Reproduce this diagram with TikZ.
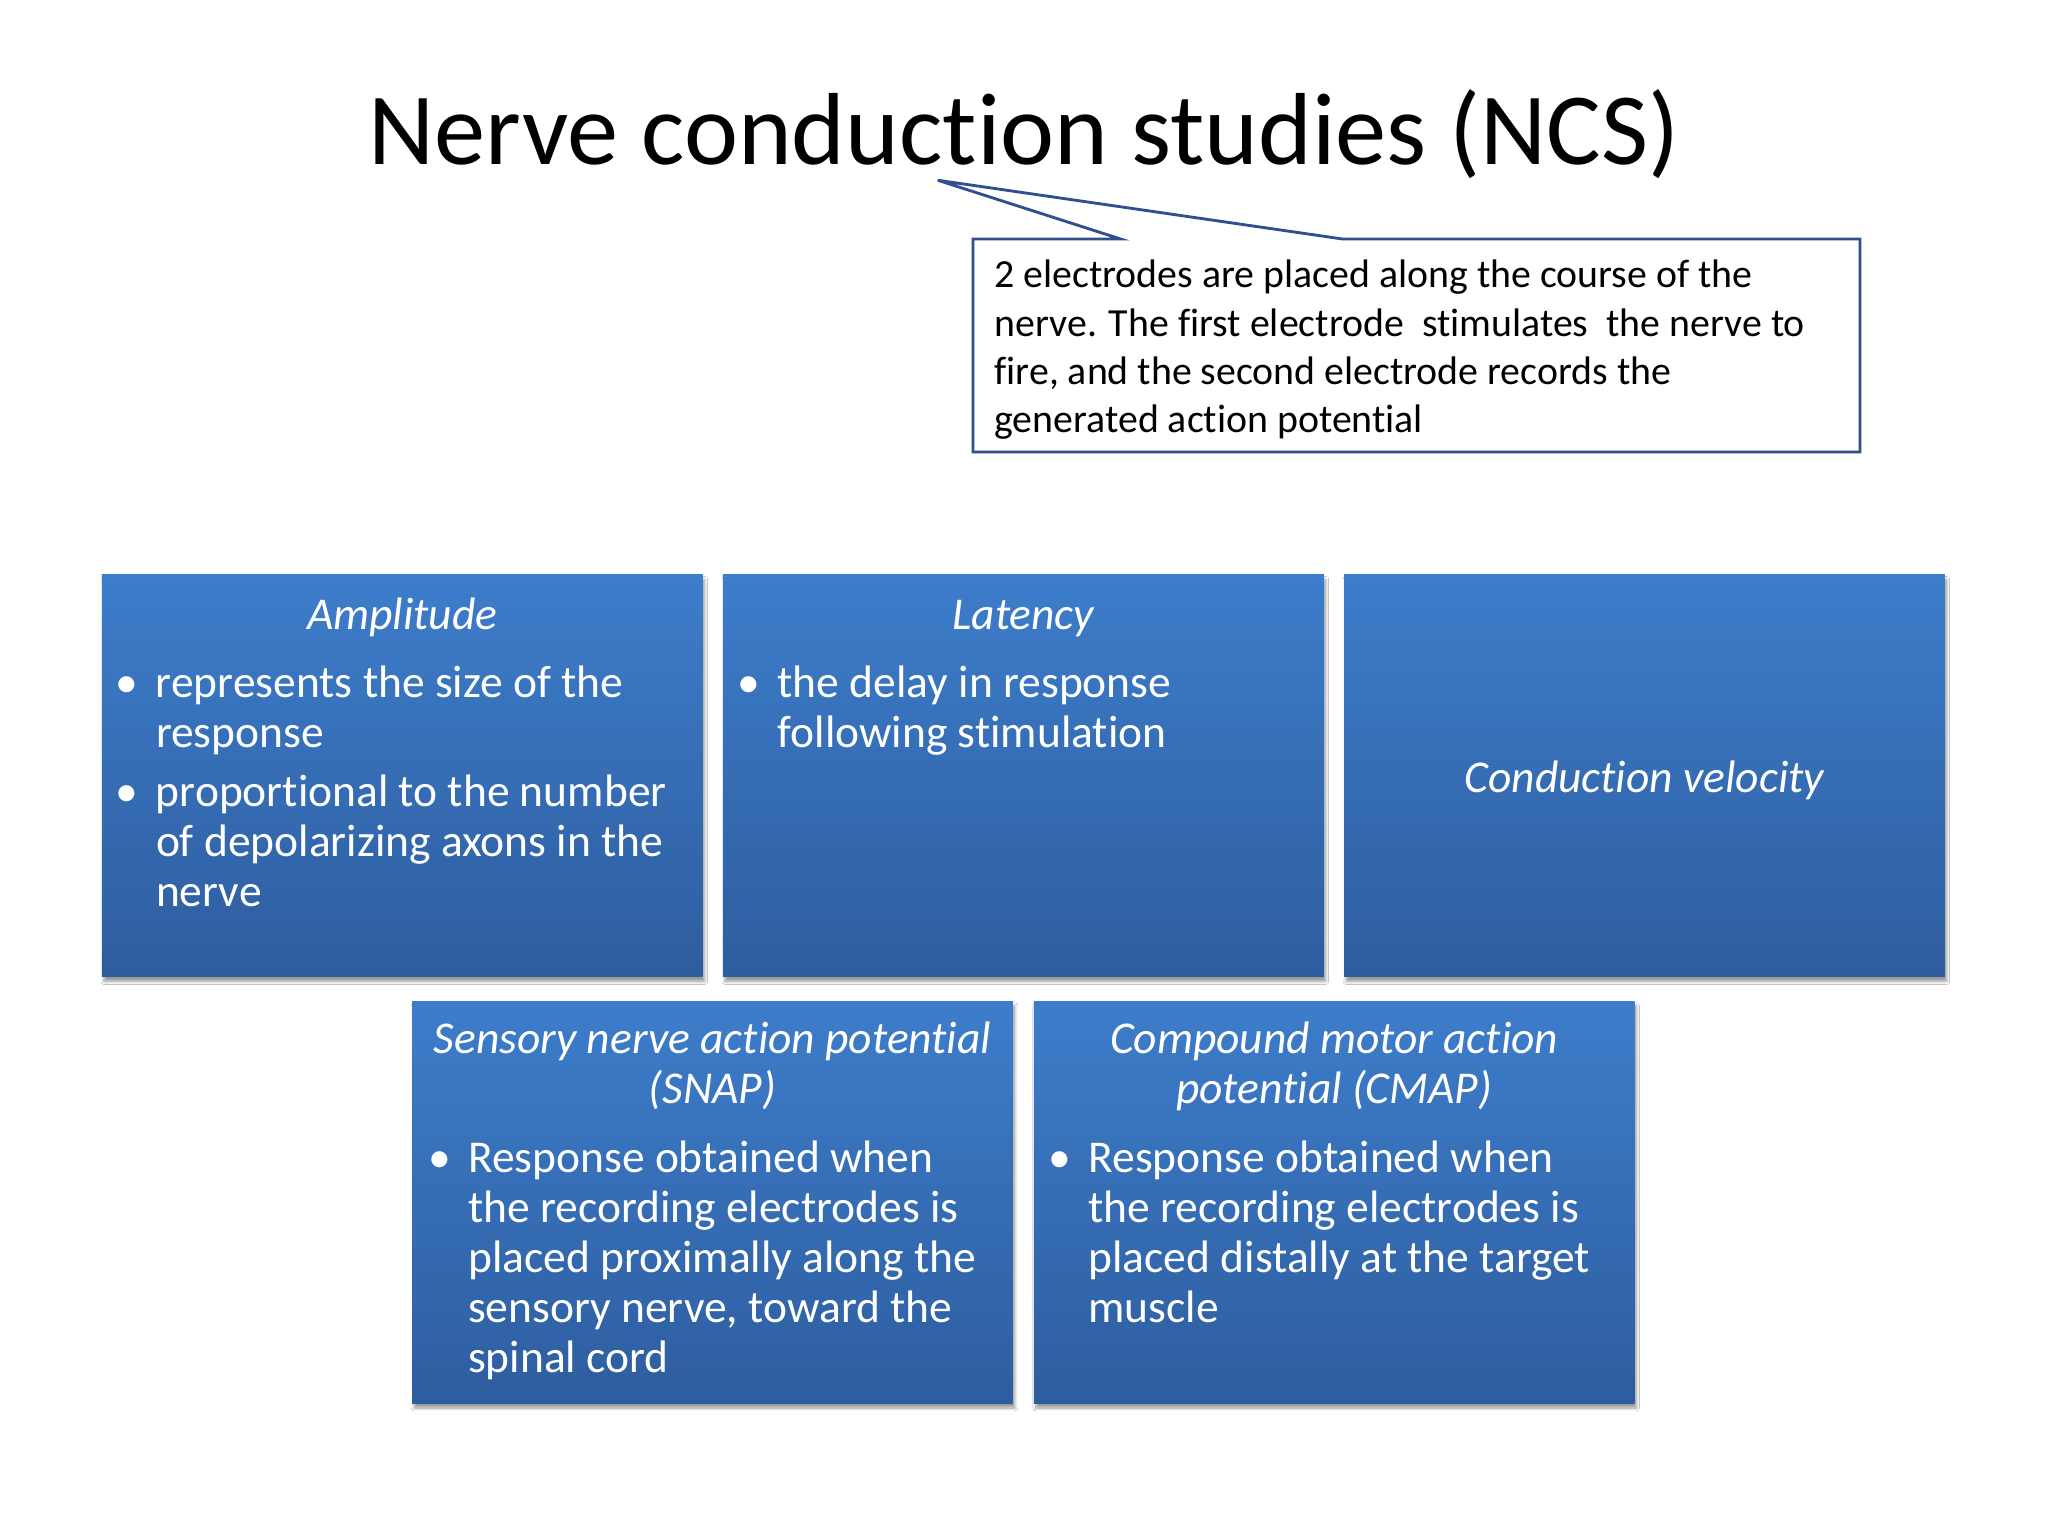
\documentclass[tikz,border=0pt]{standalone}
\usepackage{fontspec}
\setmainfont[Ligatures=NoCommon]{Carlito}
\usetikzlibrary{shadows,shadows.blur,calc}
\definecolor{boxtop}{HTML}{3D7DCB}
\definecolor{boxbot}{HTML}{2E5D9E}
\definecolor{calloutblue}{HTML}{2F4F8F}
\newlength{\uu}\setlength{\uu}{0.4592pt}
\newcommand{\bul}{\makebox[0pt][c]{\textbullet}\hspace{22\uu}}
\newcommand{\ind}{\hspace*{22\uu}}
\tikzset{
 bluebox/.style={draw=none, top color=boxtop, bottom color=boxbot, minimum width=460\uu, minimum height=308\uu, inner sep=0pt,
   blur shadow={shadow blur steps=6, shadow xshift=0.7pt, shadow yshift=-1.6pt, shadow blur radius=1pt, shadow opacity=40}},
 head/.style={text=white, font=\fontsize{16}{17.6}\selectfont\itshape, inner sep=0pt, align=center},
 body/.style={text=white, font=\fontsize{16}{17.6}\selectfont, inner sep=0pt, align=left, anchor=north west},
}
\begin{document}
\begin{tikzpicture}[x=0.4592pt,y=-0.4592pt]
\useasboundingbox (0,0) rectangle (1568,1176);
\fill[white] (0,0) rectangle (1568,1176);
\node[font=\fontsize{36}{43}\selectfont, anchor=base, inner sep=0pt] (title) at (784,126) {Nerve conduction studies (NCS)};
% callout
\coordinate (tip) at (718,138);
\draw[calloutblue, line width=1pt, fill=white, line join=miter] (745,183) -- (858,183) -- (tip) -- (1028,183) -- (1424,183) -- (1424,346) -- (745,346) -- cycle;
\node[anchor=north west, inner sep=0pt, align=left, font=\fontsize{14}{17}\selectfont] (calltext) at (761,194)
 {\strut 2 electrodes are placed along the course of the\\nerve. The first electrode\ \ stimulates\ \ the nerve to\\fire, and the second electrode records the\\generated action potential};
% row 1
\node[bluebox] (amp) at (308,594) {};
\node[head, anchor=base] (amph) at (308,482) {Amplitude};
\node[body] (ampb) at (97,507) {\strut\bul represents the size of the\\\ind response\\[3pt]\bul proportional to the number\\\ind of depolarizing axons in the\\\ind nerve};
\node[bluebox] (lat) at (783.5,594) {};
\node[head, anchor=base] (lath) at (783.5,482) {Latency};
\node[body] (latb) at (573,507) {\strut\bul the delay in response\\\ind following stimulation};
\node[bluebox] (cv) at (1259,594) {};
\node[head, anchor=base] (cvh) at (1259,607) {Conduction velocity};
% row 2
\node[bluebox] (snap) at (545.5,920.5) {};
\node[head, anchor=north] (snaph) at (545.5,779.5) {\strut Sensory nerve action potential\\(SNAP)};
\node[body] (snapb) at (336,870.5) {\strut\bul Response obtained when\\\ind the recording electrodes is\\\ind placed proximally along the\\\ind sensory nerve, toward the\\\ind spinal cord};
\node[bluebox] (cmap) at (1021.5,920.5) {};
\node[head, anchor=north] (cmaph) at (1021.5,779.5) {\strut Compound motor action\\potential (CMAP)};
\node[body] (cmapb) at (811,870.5) {\strut\bul Response obtained when\\\ind the recording electrodes is\\\ind placed distally at the target\\\ind muscle};
\end{tikzpicture}
\end{document}
